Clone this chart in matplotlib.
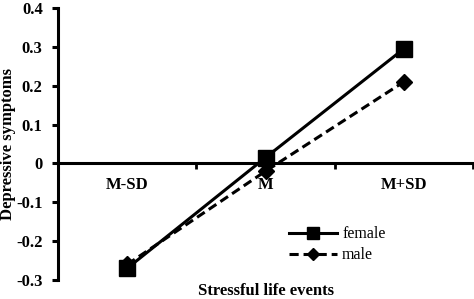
import matplotlib.pyplot as plt
import numpy as np

plt.rcParams['font.family'] = ['Liberation Serif', 'DejaVu Serif']

# data
kategorije = ["M-SD", "M", "M+SD"]
zensko = [-0.27, 0.015, 0.295]
musko = [-0.26, -0.02, 0.21]
y_ticks = [-0.3, -0.2, -0.1, 0, 0.1, 0.2, 0.3, 0.4]
y_labele = ["-0.3", "-0.2", "-0.1", "0", "0.1", "0.2", "0.3", "0.4"]

fig = plt.figure(figsize=(4.74, 2.99), dpi=100)
ax = fig.add_axes([58/474, 1-280/299, 415/474, 272/299])

x = np.arange(len(kategorije))
ax.plot(x, zensko, color="black", lw=2.2, marker="s", markersize=11, label="female")
ax.plot(x, musko, color="black", lw=2.2, ls="--", dashes=(3, 1.6), marker="D",
        markersize=8, label="male")

ax.set_xlim(-0.5, 2.5)
ax.set_ylim(-0.3, 0.4)

ax.spines["top"].set_visible(False)
ax.spines["right"].set_visible(False)
ax.spines["bottom"].set_position(("data", 0))
ax.spines["left"].set_linewidth(2.2)
ax.spines["bottom"].set_linewidth(2.2)

ax.set_yticks(y_ticks)
ax.set_yticklabels(y_labele, fontweight="bold", fontsize=12)
ax.tick_params(axis="y", direction="out", length=4, width=2.2, pad=7)

ax.set_xticks([-0.5, 0.5, 1.5, 2.5])
ax.set_xticklabels([])
ax.tick_params(axis="x", which="major", direction="out", length=4, width=2)
ax.set_xticks(x, minor=True)
ax.set_xticklabels(kategorije, minor=True, fontweight="bold", fontsize=12)
ax.tick_params(axis="x", which="minor", length=0, pad=10)

ax.set_xlabel("Stressful life events", fontweight="bold", fontsize=12, va="top")
ax.xaxis.set_label_coords(0.5, -0.01)
ax.set_ylabel("Depressive symptoms", fontweight="bold", fontsize=12)
ax.yaxis.set_label_coords(-0.1, 0.5)

ax.legend(loc="upper left", bbox_to_anchor=(275/474, 1-212/299),
          bbox_transform=fig.transFigure, frameon=False, fontsize=11.5,
          handlelength=3, labelspacing=0.3, handletextpad=0.3, markerscale=0.75)

plt.savefig("out.png", dpi=100)
